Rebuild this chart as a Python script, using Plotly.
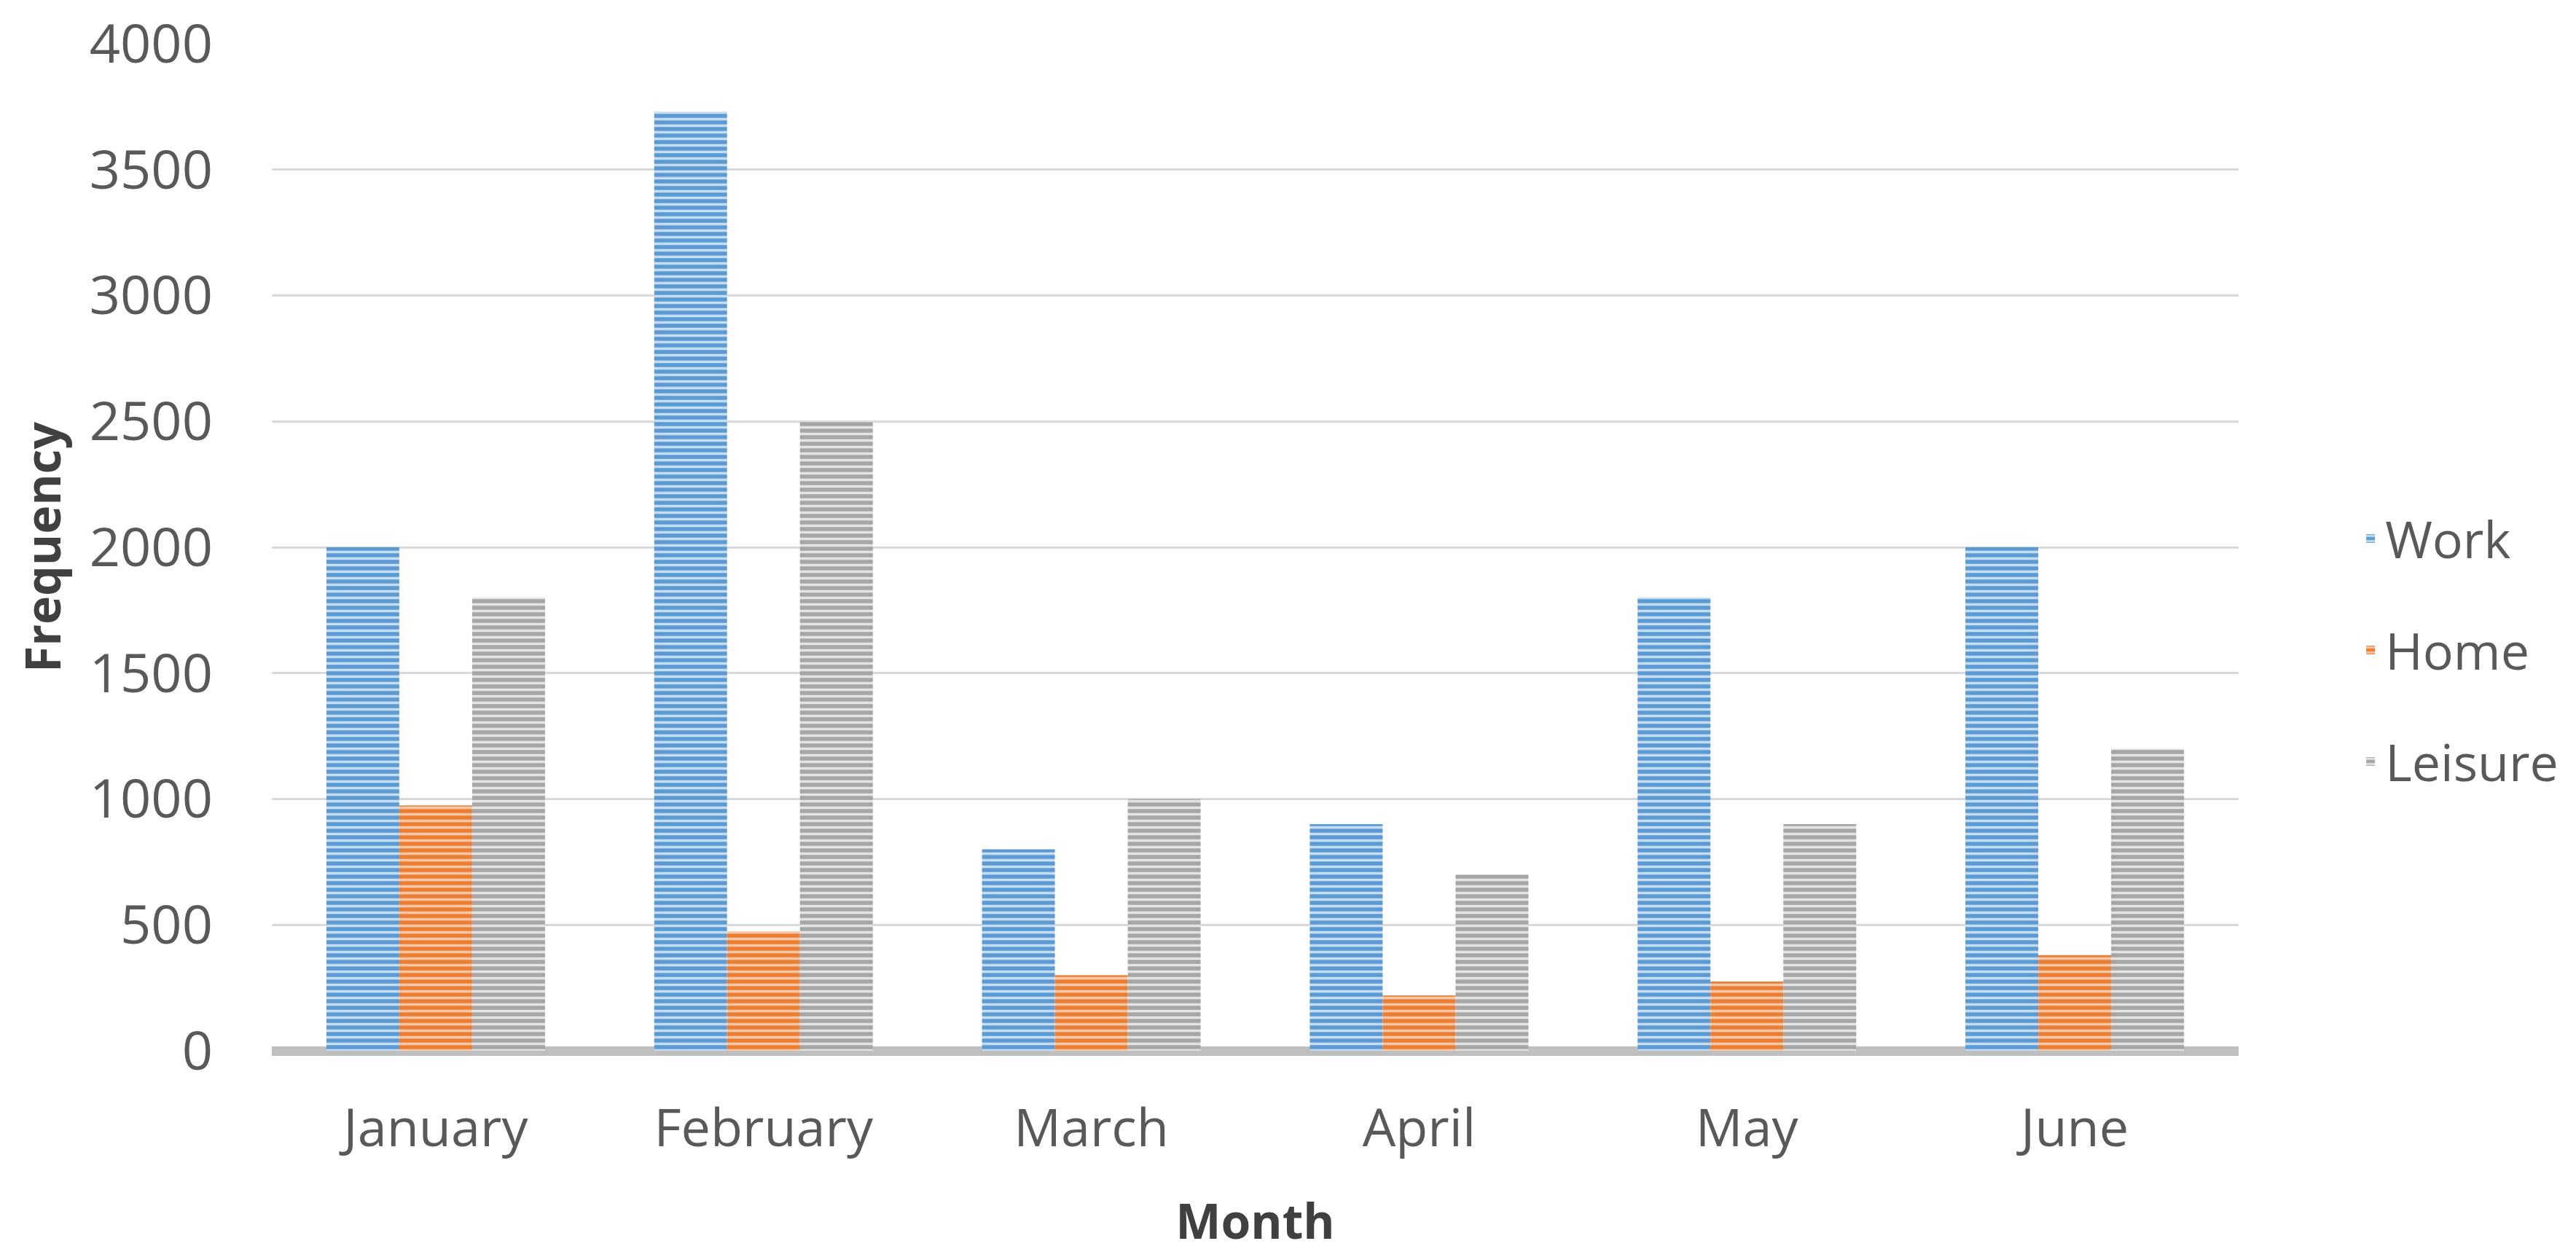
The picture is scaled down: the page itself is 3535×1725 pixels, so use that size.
import plotly.graph_objects as go

months = ["January", "February", "March", "April", "May", "June"]
work = [2000, 3730, 800, 900, 1800, 2000]
home = [975, 475, 300, 220, 275, 380]
leisure = [1800, 2500, 1000, 700, 900, 1200]
y_ticks = [0, 500, 1000, 1500, 2000, 2500, 3000, 3500, 4000]

series = [
    ("Work", work, "#5b9bd5", "#c6dcf1"),
    ("Home", home, "#ed7d31", "#f8c9a8"),
    ("Leisure", leisure, "#a5a5a5", "#e3e3e3"),
]

FONT = "Open Sans"
fig = go.Figure()
for name, vals, base, light in series:
    fig.add_trace(go.Bar(
        x=months, y=vals, name=name, legendgroup=name,
        marker=dict(
            color=base,
            line=dict(width=0),
            pattern=dict(shape="-", bgcolor=base, fgcolor=light,
                         size=9, solidity=0.4, fillmode="replace"),
        ),
    ))

fig.update_layout(
    width=3535, height=1725,
    paper_bgcolor="white", plot_bgcolor="white",
    barmode="group", bargap=0.333, bargroupgap=0,
    margin=dict(l=365, r=471, t=52, b=291),
    font=dict(family=FONT, size=68, color="#595959"),
    showlegend=True,
    legend=dict(
        x=1.0597, xanchor="left", y=0.398, yanchor="middle",
        traceorder="grouped", tracegroupgap=59,
        font=dict(family=FONT, size=70, color="#595959"),
        bgcolor="rgba(0,0,0,0)",
    ),
    xaxis=dict(
        showgrid=False, showline=False, ticks="", automargin=False,
        tickfont=dict(family=FONT, size=72, color="#595959"),
        ticklabelstandoff=58,
        title=dict(text="<b>Month</b>", standoff=60,
                   font=dict(family=FONT, size=66, color="#404040")),
    ),
    yaxis=dict(
        range=[0, 4000], tickvals=y_ticks, ticks="", automargin=False,
        ticklabeloverflow="allow",
        showgrid=True, gridcolor="#d9d9d9", gridwidth=3,
        zeroline=True, zerolinecolor="#bfbfbf", zerolinewidth=13,
        showline=False,
        tickfont=dict(family=FONT, size=74, color="#595959"),
        ticklabelstandoff=80,
        title=dict(text="<b>Frequency</b>", standoff=17,
                   font=dict(family=FONT, size=66, color="#404040")),
    ),
)

fig.write_html("out.html")
